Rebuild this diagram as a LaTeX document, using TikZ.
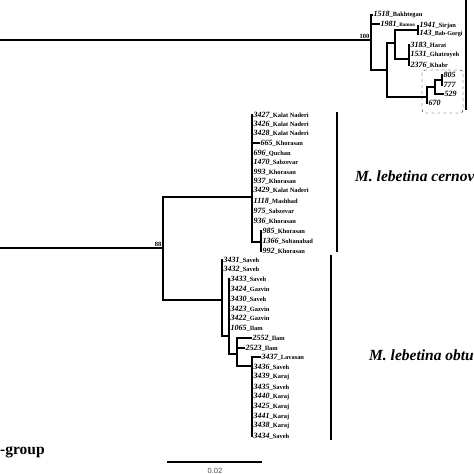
\documentclass[tikz,border=0pt]{standalone}
\usepackage{fontspec}
\setmainfont{Liberation Serif}
\setsansfont{Liberation Sans}
\newcommand{\isonum}[1]{{\fontsize{8}{8}\selectfont\bfseries\itshape #1}}
\newcommand{\isolate}[2]{\isonum{#1}{\fontsize{6.4}{7}\selectfont\bfseries\_#2}}

\begin{document}
\begin{tikzpicture}[x=1pt, y=-1pt,
  branch/.style={line width=1.2pt},
  tip/.style={anchor=west, inner sep=0.5pt},
  cladebar/.style={line width=1.5pt},
  support/.style={anchor=south east, inner sep=1pt, font=\fontsize{6.5}{7}\selectfont\bfseries},
  taxon/.style={anchor=west, inner sep=0pt, font=\fontsize{15.5}{16}\selectfont\bfseries\itshape}]
\useasboundingbox (0,0) rectangle (474,474);

% upper clade
\coordinate (o100) at (0,40);
\coordinate (n100) at (371,40);
\coordinate (nA) at (387,70);
\coordinate (nB) at (395,43);
\coordinate (nC) at (418,30);
\coordinate (nD) at (409,59);
\coordinate (nE) at (427,97);
\coordinate (nF) at (435,87);
\coordinate (nG) at (442,80);
\draw[branch] (o100) -- (n100) node[support] {100};
\node[tip] (t1518) at (373,15) {\isolate{1518}{Bakhtegan}};
\node[tip] (t1981) at (380,24) {\isonum{1981}{\fontsize{5.2}{6}\selectfont\bfseries\_Bamoo}};
\node[tip] (t1941) at (419,26) {\isolate{1941}{Sirjan}};
\node[tip] (t143) at (419,34) {\isonum{143}{\fontsize{6.1}{7}\selectfont\bfseries\_Bab-Gorgi}};
\node[tip] (t3183) at (410,45) {\isolate{3183}{Harat}};
\node[tip] (t1531) at (410,55) {\isolate{1531}{Ghatroyeh}};
\node[tip] (t2376) at (410,65) {\isolate{2376}{Khabr}};
\node[tip] (t805) at (443,75) {\isonum{805}};
\node[tip] (t777) at (443,85) {\isonum{777}};
\node[tip] (t529) at (444,94) {\isonum{529}};
\node[tip] (t670) at (428,103) {\isonum{670}};
\draw[branch] (n100) |- (t1518.west) (n100) |- (t1981.west) (n100) |- (nA);
\draw[branch] (nA) |- (nB) (nA) |- (nE);
\draw[branch] (nB) |- (nC) (nB) |- (nD);
\draw[branch] (nC) |- (t1941.west) (nC) |- (t143.west);
\draw[branch] (nD) |- (t3183.west) (nD) |- (t1531.west) (nD) |- (t2376.west);
\draw[branch] (nE) |- (nF) (nE) |- (t670.west);
\draw[branch] (nF) |- (nG) (nF) |- (t529.west);
\draw[branch] (nG) |- (t805.west) (nG) |- (t777.west);
\draw[dashed, rounded corners=3pt] (422,70) rectangle (463,113);
\draw[line width=2.2pt] (466,0) -- (466,110);

% lower clade
\coordinate (o88) at (0,248);
\coordinate (n88) at (163,248);
\coordinate (nK) at (252,197);
\coordinate (nL) at (261,242);
\coordinate (nA2) at (222,300);
\coordinate (nB2) at (229,336);
\coordinate (nC2) at (237,354);
\coordinate (nD2) at (252,366);
\draw[branch] (o88) -- (n88) node[support] {88};
\draw[branch] (n88) |- (nK) (n88) |- (nA2);
\draw[branch] (nK) |- (nL) (nA2) |- (nB2) (nB2) |- (nC2) (nC2) |- (nD2);
\foreach \n/\s/\y in {3427/Kalat Naderi/115, 3426/Kalat Naderi/124, 3428/Kalat Naderi/133,
    696/Quchan/153, 1470/Sabzevar/162, 993/Khorasan/172, 937/Khorasan/181,
    3429/Kalat Naderi/190, 1118/Mashhad/201, 975/Sabzevar/211, 936/Khorasan/221}
  {\node[tip] (t\n) at (253,\y) {\isolate{\n}{\s}}; \draw[branch] (nK) |- (t\n.west);}
\node[tip] (t665) at (260,143) {\isolate{665}{Khorasan}};
\draw[branch] (nK) |- (t665.west);
\foreach \n/\s/\y in {985/Khorasan/231, 1366/Soltanabad/241, 992/Khorasan/251}
  {\node[tip] (t\n) at (262,\y) {\isolate{\n}{\s}}; \draw[branch] (nL) |- (t\n.west);}
\foreach \n/\s/\y in {3431/Saveh/260, 3432/Saveh/269}
  {\node[tip] (t\n) at (223,\y) {\isolate{\n}{\s}}; \draw[branch] (nA2) |- (t\n.west);}
\foreach \n/\s/\y in {3433/Saveh/279, 3424/Gazvin/289, 3430/Saveh/299,
    3423/Gazvin/309, 3422/Gazvin/318, 1065/Ilam/328}
  {\node[tip] (t\n) at (230,\y) {\isolate{\n}{\s}}; \draw[branch] (nB2) |- (t\n.west);}
\node[tip] (t2552) at (252,338) {\isolate{2552}{Ilam}};
\node[tip] (t2523) at (245,348) {\isolate{2523}{Ilam}};
\draw[branch] (nC2) |- (t2552.west) (nC2) |- (t2523.west);
\node[tip] (t3437) at (261,357) {\isolate{3437}{Lavasan}};
\draw[branch] (nD2) |- (t3437.west);
\foreach \n/\s/\y in {3436/Saveh/367, 3439/Karaj/377, 3435/Saveh/387, 3440/Karaj/397,
    3425/Karaj/407, 3441/Karaj/417, 3438/Karaj/426, 3434/Saveh/436}
  {\node[tip] (t\n) at (253,\y) {\isolate{\n}{\s}}; \draw[branch] (nD2) |- (t\n.west);}

% clade bars and names
\draw[cladebar] (337,112) -- (337,252);
\draw[cladebar] (331,255) -- (331,440);
\node[taxon] (cernovi) at (355,176) {M. lebetina cernov};
\node[taxon] (obtusa) at (369,355) {M. lebetina obtu};
\node[anchor=west, inner sep=0pt, font=\fontsize{15.5}{16}\selectfont\bfseries] (outgroup) at (0,452) {-group};

% scale
\coordinate (s0) at (167,462);
\coordinate (s1) at (262,462);
\draw[line width=1.2pt] (s0) -- (s1);
\node[font=\sffamily\fontsize{7.5}{8}\selectfont, text=black!70] (scale) at (215,471) {0.02};
\end{tikzpicture}
\end{document}
